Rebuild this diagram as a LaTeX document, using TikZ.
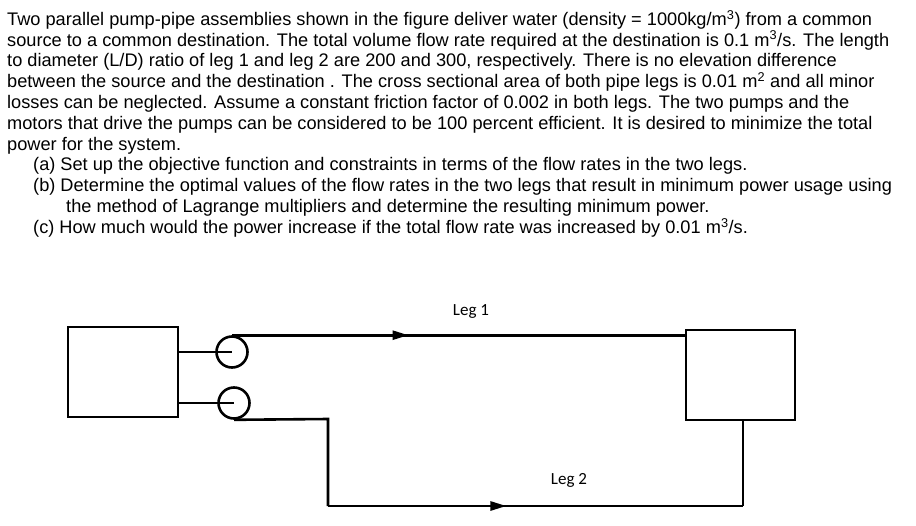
\documentclass[tikz,border=0pt]{standalone}
\usepackage{fontspec}
\setmainfont{Liberation Sans}
\newfontfamily\calib{Carlito}
\usetikzlibrary{arrows.meta,decorations.markings}
\begin{document}
\begin{tikzpicture}[x=1pt,y=-1pt,
  pipe/.style={line width=2.6pt},
  flow/.style={postaction={decorate},decoration={markings,mark=at position #1 with {\arrow{Triangle[length=16pt,width=9pt]}}}},
  tank/.style={draw,line width=2.8pt,rectangle,inner sep=0pt},
  pump/.style={draw,line width=2.6pt,circle,minimum size=31pt,inner sep=0pt},
  lbl/.style={font=\calib\fontsize{17}{20}\selectfont}]
\useasboundingbox (0,0) rectangle (916,525);
\node[anchor=north west,align=left,inner sep=0pt,font=\fontsize{18.2}{20.8}\selectfont] (txt) at (7,10) {%
Two parallel pump-pipe assemblies shown in the figure deliver water (density = 1000kg/m\textsuperscript{3}) from a common\\
source to a common destination. The total volume flow rate required at the destination is 0.1 m\textsuperscript{3}/s. The length\\
to diameter (L/D) ratio of leg 1 and leg 2 are 200 and 300, respectively. There is no elevation difference\\
between the source and the destination . The cross sectional area of both pipe legs is 0.01 m\textsuperscript{2} and all minor\\
losses can be neglected. Assume a constant friction factor of 0.002 in both legs. The two pumps and the\\
motors that drive the pumps can be considered to be 100 percent efficient. It is desired to minimize the total\\
power for the system.\\
\hspace*{26pt}(a) Set up the objective function and constraints in terms of the flow rates in the two legs.\\
\hspace*{26pt}(b) Determine the optimal values of the flow rates in the two legs that result in minimum power usage using\\
\hspace*{59pt}the method of Lagrange multipliers and determine the resulting minimum power.\\
\hspace*{26pt}(c) How much would the power increase if the total flow rate was increased by 0.01 m\textsuperscript{3}/s.};
\node[tank,minimum width=110pt,minimum height=90pt] (src) at (123,372) {};
\node[tank,minimum width=109pt,minimum height=90pt] (dst) at (740.5,375) {};
\node[pump] (p1) at (232,352) {};
\node[pump] (p2) at (234,403) {};
\draw[pipe] (src.east |- p1) -- (p1.center);
\draw[pipe] (src.east |- p2) -- (p2.center);
\draw[pipe,flow=0.39] (p1.north) -- (dst.west |- p1.north);
\coordinate (c1) at (328,419);
\coordinate (c2) at (328,506);
\coordinate (c3) at (743,506);
\draw[pipe] (p2.south) -- (c1) -- (c2);
\draw[pipe,flow=0.43] (c2) -- (c3);
\draw[pipe] (c3) -- (c3 |- dst.south);
\node[lbl] (l1) at (471,311) {Leg 1};
\node[lbl] (l2) at (569,480) {Leg 2};
\end{tikzpicture}
\end{document}
